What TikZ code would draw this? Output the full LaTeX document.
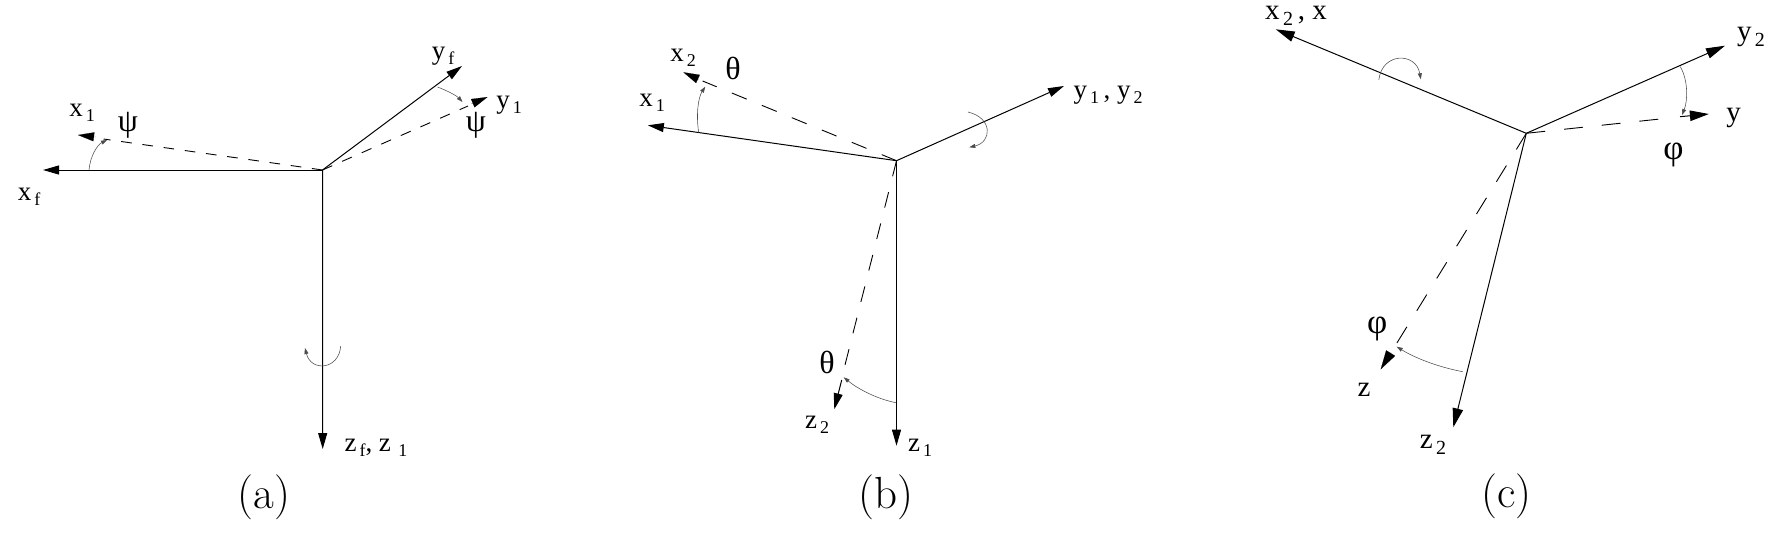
\documentclass[tikz,border=0pt]{standalone}
\usepackage{fontspec}
\newfontfamily\lblfont{Liberation Serif}
\usetikzlibrary{arrows.meta}
\newcommand{\sbs}[1]{\raisebox{-5pt}{\fontsize{18}{18}\selectfont\,#1}}
\newcommand{\sbc}[1]{\raisebox{-6pt}{\fontsize{20}{20}\selectfont\,#1}}
\tikzset{
  axisline/.style={line width=1pt,-{Triangle[length=16pt,width=9pt]}},
  axisbig/.style={line width=1pt,-{Triangle[length=19pt,width=10.5pt]}},
  headonly/.style={line width=0.1pt,-{Triangle[length=16pt,width=9pt]}},
  headbig/.style={line width=0.1pt,-{Triangle[length=19pt,width=10.5pt]}},
  dasha/.style={line width=0.9pt,dash pattern=on 10.7pt off 10.7pt},
  dashb/.style={line width=0.9pt,dash pattern=on 16pt off 16.4pt},
  dashc/.style={line width=0.9pt,dash pattern=on 19pt off 18.9pt},
  turn/.style={line width=0.55pt,black!70,-{Triangle[length=6pt,width=4pt]}},
  lbl/.style={inner sep=0pt,font=\lblfont\fontsize{27}{27}\selectfont},
  lblc/.style={inner sep=0pt,font=\lblfont\fontsize{29}{29}\selectfont},
  greek/.style={inner sep=0pt,font=\lblfont\fontsize{32}{32}\selectfont},
  greekc/.style={inner sep=0pt,font=\lblfont\fontsize{35}{35}\selectfont},
  captionlabel/.style={inner sep=0pt,font=\fontsize{45}{45}\selectfont}
}
\begin{document}
\begin{tikzpicture}[x=1pt,y=-1pt]
\useasboundingbox (0,0) rectangle (1769,538);
% ---------- panel a
\coordinate (Oa) at (322.5,170);
\coordinate (xfTip) at (43,170);
\coordinate (yfTip) at (462,66);
\coordinate (zfTip) at (322.7,449);
\coordinate (xoneEnd) at (103.5,139);
\coordinate (xoneBase) at (95.5,137);
\coordinate (xoneTip) at (78,135);
\coordinate (yoneEnd) at (468,106);
\coordinate (yoneBase) at (471,104);
\coordinate (yoneTip) at (487.5,97);
\draw[axisline] (Oa) -- (xfTip);
\draw[axisline] (Oa) -- (yfTip);
\draw[axisline] (Oa) -- (zfTip);
\draw[dasha] (Oa) -- (xoneEnd);
\draw[dasha] (Oa) -- (yoneEnd);
\draw[headonly] (xoneBase) -- (xoneTip);
\draw[headonly] (yoneBase) -- (yoneTip);
\draw[turn] (89,170) .. controls (90,157) and (97,145) .. (107,140);
\draw[turn] (437.5,87) .. controls (448,91) and (457,96) .. (462.5,102);
\draw[turn] (340.7,346) .. controls (339,370) and (311,372) .. (305,348);
\node[lbl] (lxf) at (29,197) {x\sbs{f}};
\node[lbl] (lyf) at (443,56) {y\sbs{f}};
\node[lbl] (lxone) at (82,113) {x\sbs{1}};
\node[lbl] (lyone) at (509,105) {y\sbs{1}};
\node[greek] (lpsia) at (128,125) {ψ};
\node[greek] (lpsib) at (476,125) {ψ};
\node[lbl] (lzf) at (376,448) {z\sbs{f}, z\,\sbs{1}};
\node[captionlabel] (capa) at (264,497) {(a)};
% ---------- panel b
\coordinate (Ob) at (896.5,160.7);
\coordinate (xoneTipb) at (647.8,125.3);
\coordinate (ytwoTipb) at (1064,86);
\coordinate (zoneTipb) at (896.5,445.7);
\coordinate (xtwoEnd) at (702.6,81);
\coordinate (xtwoBase) at (698.7,79.3);
\coordinate (xtwoTip) at (683.4,72.3);
\coordinate (ztwoEnd) at (845,365);
\coordinate (ztwoTail) at (841.7,380);
\coordinate (ztwoTip) at (834.3,409.3);
\draw[axisline] (Ob) -- (xoneTipb);
\draw[axisline] (Ob) -- (ytwoTipb);
\draw[axisline] (Ob) -- (zoneTipb);
\draw[dashb] (Ob) -- (xtwoEnd);
\draw[dashb] (Ob) -- (ztwoEnd);
\draw[headonly] (xtwoBase) -- (xtwoTip);
\draw[axisline] (ztwoTail) -- (ztwoTip);
\draw[turn] (698.7,132.7) .. controls (696,115) and (698,98) .. (705.2,86.7);
\draw[turn] (968,112) .. controls (993,118) and (992,142) .. (969.3,147.3);
\draw[turn] (896,402.7) .. controls (877,399) and (858,389) .. (843.7,377.3);
\node[lbl] (lxoneb) at (652,103) {x\sbs{1}};
\node[lbl] (lxtwob) at (683,58) {x\sbs{2}};
\node[greek] (lthetaa) at (733,68) {θ};
\node[lbl] (lyb) at (1108,95) {y\sbs{1}\,, y\sbs{2}};
\node[greek] (lthetab) at (827,362) {θ};
\node[lbl] (lztwob) at (817,425) {z\sbs{2}};
\node[lbl] (lzoneb) at (920,448) {z\sbs{1}};
\node[captionlabel] (capb) at (886,497) {(b)};
% ---------- panel c
\coordinate (Oc) at (1526.3,133.3);
\coordinate (xtwoTipc) at (1275.7,29.3);
\coordinate (ytwoTipc) at (1725,45.7);
\coordinate (ztwoTipc) at (1453.3,427.3);
\coordinate (yEnd) at (1660,119);
\coordinate (yTail) at (1680,116.7);
\coordinate (yTip) at (1708.9,114);
\coordinate (zEnd) at (1396.7,343.3);
\coordinate (zBase) at (1391,352.5);
\coordinate (zTip) at (1380.7,369.3);
\draw[axisbig] (Oc) -- (xtwoTipc);
\draw[axisbig] (Oc) -- (ytwoTipc);
\draw[axisbig] (Oc) -- (ztwoTipc);
\draw[dashc] (Oc) -- (yEnd);
\draw[dashc] (Oc) -- (zEnd);
\draw[axisbig] (yTail) -- (yTip);
\draw[headbig] (zBase) -- (zTip);
\draw[turn] (1378.8,80) .. controls (1382,52) and (1416,52) .. (1420.8,79.3);
\draw[turn] (1680.3,66.7) .. controls (1688,80) and (1688,100) .. (1682,115);
\draw[turn] (1462.7,371.7) .. controls (1438,367) and (1415,358) .. (1396.7,346.7);
\node[lblc] (lxc) at (1296,16) {x\sbc{2}\,, x};
\node[lblc] (lytwoc) at (1751,37) {y\sbc{2}};
\node[lblc] (lyc) at (1733.6,118) {y};
\node[greekc] (lphia) at (1673.4,155) {φ};
\node[greekc] (lphib) at (1377.3,329.3) {φ};
\node[lblc] (lzc) at (1364,390) {z};
\node[lblc] (lztwoc) at (1433,445) {z\sbc{2}};
\node[captionlabel] (capc) at (1506.7,496) {(c)};
\end{tikzpicture}
\end{document}
